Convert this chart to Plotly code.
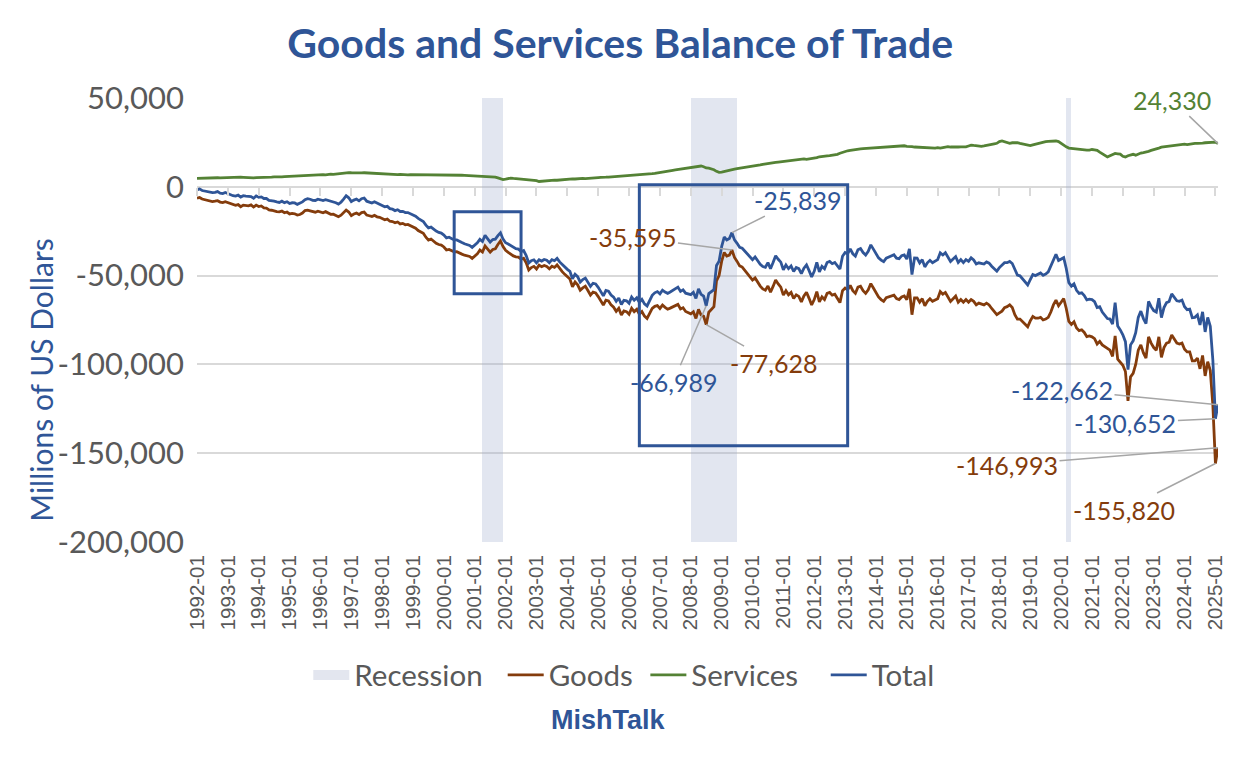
import plotly.graph_objects as go

# ---------------- data (millions of US dollars, monthly 1992-01 .. 2025-02) ----------------
months = [f"{y}-{m:02d}" for y in range(1992, 2026) for m in range(1, 13)][:398]
tick_labels = [f"{y}-01" for y in range(1992, 2026)]
y_ticks = [-200000, -150000, -100000, -50000, 0, 50000]

goods = [
    -6400, -6000, -6900, -7300, -7800, -7900, -8300, -8100, -7800, -8600, -8900, -8400,          # 1992
    -8900, -9600, -10100, -10400, -10000, -11200, -10300, -10500, -10700, -10200, -11400, -10300, # 1993
    -11100, -10800, -11900, -12000, -13000, -13200, -13700, -14000, -14100, -13700, -14600, -14200,  # 1994
    -15300, -15000, -15200, -15900, -15600, -14800, -13400, -13100, -13500, -14000, -14300, -13700,  # 1995
    -14100, -14600, -14000, -14700, -15500, -15400, -16200, -16800, -16000, -14500, -13100, -14200,  # 1996
    -16200, -15300, -14800, -15600, -14500, -14200, -15900, -16300, -16700, -16100, -16900, -17200,  # 1997
    -17800, -18600, -18200, -19400, -19600, -20300, -19800, -20900, -20600, -21400, -21200, -22000,  # 1998
    -22500, -23300, -24600, -25300, -26200, -28400, -30000, -29400, -30700, -31800, -32500, -32800,  # 1999
    -33900, -35600, -35300, -36100, -36600, -36500, -37400, -37900, -38500, -38900, -39200, -40300,  # 2000
    -38800, -37800, -35600, -36700, -33300, -34800, -36800, -35300, -34900, -32500, -30500, -33600,  # 2001
    -35800, -36900, -38000, -38900, -39400, -39600, -40800, -40200, -42800, -46900, -45500, -44800,  # 2002
    -46300, -44100, -45000, -44300, -44900, -46200, -44700, -45400, -44000, -46200, -47800, -49300,  # 2003
    -50700, -51900, -56300, -53600, -55200, -58200, -56900, -56000, -58400, -61000, -59300, -59800,  # 2004
    -61800, -64500, -66600, -63800, -64300, -66500, -67800, -70100, -68400, -72200, -69900, -70300,  # 2005
    -71800, -68400, -70300, -69000, -71700, -70200, -72800, -74100, -71000, -68500, -67300, -66900,  # 2006
    -68500, -66600, -67900, -68900, -68300, -67500, -66900, -66200, -68800, -68100, -70200, -71000,  # 2007
    -71500, -70400, -74100, -69000, -72200, -72900, -77628, -70600, -69000, -67500, -53000, -50000,  # 2008
    -42000, -37000, -39000, -38500, -35595, -39800, -42000, -44500, -45200, -47000, -48800, -50500,  # 2009
    -52500, -51300, -53800, -55900, -57500, -58200, -55800, -59400, -56100, -52500, -54700, -56500,  # 2010
    -61000, -58500, -60800, -59500, -62900, -60800, -61700, -64800, -61500, -59400, -62800, -66500,  # 2011
    -63500, -59000, -64800, -62000, -63500, -60000, -59500, -61000, -60500, -63000, -65200, -58500,  # 2012
    -57000, -58000, -55500, -58500, -60000, -56500, -56000, -58500, -60000, -58000, -54500, -57000,  # 2013
    -59500, -62000, -63500, -64500, -62500, -62000, -61500, -61000, -63000, -63500, -62000, -61500,  # 2014
    -63500, -57500, -72000, -62500, -62500, -65000, -63000, -67000, -64500, -63000, -64500, -63500,  # 2015
    -63000, -59000, -60500, -59500, -62000, -64500, -63000, -61500, -65000, -63500, -65000, -63500,  # 2016
    -65000, -63500, -64500, -66500, -65500, -66000, -66500, -65500, -66500, -68500, -70500, -72000,  # 2017
    -71000, -70000, -68000, -67500, -66500, -68000, -72000, -74500, -74500, -76000, -77000, -78800,  # 2018
    -75500, -73000, -74000, -74000, -73500, -75000, -74500, -73500, -70500, -66500, -63800, -67000,  # 2019
    -65000, -62900, -68500, -75800, -77500, -76000, -79500, -81000, -80500, -82000, -84400, -84000,  # 2020
    -84500, -85500, -88500, -87000, -89000, -90000, -91000, -92000, -95500, -84000, -97000, -99000,  # 2021
    -100500, -104000, -120500, -107000, -105000, -100000, -92000, -89000, -93500, -96500, -84500, -88000,  # 2022
    -90500, -92000, -84500, -96000, -90500, -88000, -87500, -83500, -85500, -88000, -88500, -88000,  # 2023
    -91500, -93000, -93000, -98000, -98000, -96500, -102500, -95000, -106500, -98500, -103500, -122900,  # 2024
    -155820, -146993,                                                                               # 2025
]

services = [
    4700, 4800, 4800, 4900, 4800, 4900, 5000, 5000, 5100, 5000, 5100, 5200,          # 1992
    5100, 5000, 5100, 5200, 5300, 5400, 5300, 5200, 5100, 4700, 5000, 5200,          # 1993
    5200, 5100, 5300, 5400, 5400, 5500, 5600, 5500, 5300, 5600, 5700, 5800,          # 1994
    5900, 6000, 6100, 6000, 6200, 6300, 6100, 6400, 6500, 6400, 6600, 6700,          # 1995
    6800, 6900, 6700, 7000, 7100, 7000, 7200, 7100, 7300, 7600, 8100, 8000,          # 1996
    7900, 7800, 7900, 7700, 7800, 7900, 7800, 7700, 7600, 7700, 7800, 7600,          # 1997
    7400, 7300, 7200, 7100, 7000, 6900, 6900, 7000, 6800, 6900, 6700, 6800,          # 1998
    6800, 6700, 6800, 6600, 6700, 6800, 6900, 6700, 6800, 6900, 6800, 6700,          # 1999
    6700, 6800, 6900, 6800, 6700, 6600, 6500, 6500, 6400, 6300, 6200, 6200,          # 2000
    6100, 6200, 6000, 5900, 6000, 5800, 5700, 5600, 5400, 5000, 4600, 4100,          # 2001
    4300, 4700, 4900, 4700, 4600, 4500, 4400, 4300, 4100, 4000, 3900, 3700,          # 2002
    3500, 3000, 3200, 3400, 3600, 3500, 3700, 3800, 3700, 3900, 4000, 4100,          # 2003
    4200, 4300, 4500, 4400, 4600, 4500, 4700, 4600, 4800, 4900, 5000, 5100,          # 2004
    5200, 5300, 5200, 5400, 5500, 5600, 5700, 5600, 5800, 5900, 6000, 6100,          # 2005
    6200, 6300, 6400, 6500, 6600, 6800, 6900, 7000, 7200, 7400, 7600, 7900,          # 2006
    8200, 8400, 8600, 8900, 9100, 9300, 9500, 9700, 9900, 10100, 10300, 10500,       # 2007
    10800, 11000, 11200, 11500, 11700, 11300, 10639, 10500, 10200, 9600, 8700, 8100, # 2008
    8300, 8700, 9100, 9400, 9756, 9900, 10200, 10400, 10600, 10900, 11100, 11300,    # 2009
    11500, 11800, 12100, 12300, 12600, 12900, 13100, 13300, 13500, 13700, 13900, 14100,  # 2010
    14300, 14500, 14700, 14900, 15200, 15400, 15600, 15900, 15700, 15400, 15600, 15800,  # 2011
    15900, 16400, 16900, 17200, 17300, 17400, 17500, 17700, 17900, 18300, 18900, 19400,  # 2012
    20000, 20300, 20500, 20800, 21000, 21100, 21300, 21500, 21600, 21700, 21800, 21900,  # 2013
    22100, 22000, 22200, 22400, 22300, 22500, 22600, 22700, 22800, 23000, 23200, 23100,  # 2014
    22800, 22500, 22600, 22400, 22300, 22100, 22000, 21900, 21700, 21600, 21700, 21800,  # 2015
    22000, 21800, 22100, 22400, 22600, 22400, 22300, 22200, 22400, 22500, 22300, 22500,  # 2016
    23000, 23500, 23300, 23000, 22700, 22800, 23000, 23200, 23500, 23800, 24200, 24500,  # 2017
    25500, 25800, 25300, 24800, 24500, 24800, 25000, 24800, 24400, 24200, 23800, 23500,  # 2018
    23200, 23600, 24000, 24600, 25000, 25200, 25400, 25600, 25800, 25900, 25800, 25500,  # 2019
    24500, 23000, 22500, 21800, 21600, 21400, 21200, 21000, 20800, 20800, 20700, 20700,  # 2020
    21000, 20800, 20500, 19500, 18500, 17500, 16800, 17500, 18200, 18800, 18600, 18400,  # 2021
    17200, 16800, 17500, 18000, 18300, 17800, 18500, 19000, 19300, 19500, 20000, 20500,  # 2022
    20800, 21500, 21800, 22300, 22500, 22800, 22900, 23200, 23500, 23800, 24000, 24200,  # 2023
    24000, 23800, 24100, 24300, 24500, 24400, 24700, 24600, 24800, 24900, 25000, 25300,  # 2024
    25168, 24330,                                                                     # 2025
]

total = [
    -1700, -1200, -2100, -2400, -3000, -3000, -3300, -3100, -2700, -3600, -3800, -3200,          # 1992
    -3800, -4600, -5000, -5200, -4700, -5800, -5000, -5300, -5600, -5500, -6400, -5100,          # 1993
    -5900, -5700, -6600, -6600, -7600, -7700, -8100, -8500, -8800, -8100, -8900, -8400,          # 1994
    -9400, -9000, -9100, -9900, -9400, -8500, -7300, -6700, -7000, -7600, -7700, -7000,          # 1995
    -7300, -7700, -7300, -7700, -8400, -8400, -9000, -9700, -8700, -6900, -5000, -6200,          # 1996
    -8300, -7500, -6900, -7900, -6700, -6300, -8100, -8600, -9100, -8400, -9100, -9600,          # 1997
    -10400, -11300, -11000, -12300, -12600, -13400, -12900, -13900, -13800, -14500, -14500, -15200,  # 1998
    -15700, -16600, -17800, -18700, -19500, -21600, -23100, -22700, -23900, -24900, -25700, -26100,  # 1999
    -27200, -28800, -28400, -29300, -29900, -29900, -30900, -31400, -32100, -32600, -33000, -34100,  # 2000
    -32700, -31600, -29600, -30800, -27300, -29000, -31100, -29700, -29500, -27500, -25900, -29500,  # 2001
    -31500, -32200, -33100, -34200, -34800, -35100, -36400, -35900, -38700, -42900, -41600, -41100,  # 2002
    -42800, -41100, -41800, -40900, -41300, -42700, -41000, -41600, -40300, -42300, -43800, -45200,  # 2003
    -46500, -47600, -51800, -49200, -50600, -53700, -52200, -51400, -53600, -56100, -54300, -54700,  # 2004
    -56600, -59200, -61400, -58400, -58800, -60900, -62100, -64500, -62600, -66300, -63900, -64200,  # 2005
    -65600, -62100, -63900, -62500, -65100, -63400, -65900, -67100, -63800, -61100, -59700, -59000,  # 2006
    -60300, -58200, -59300, -60000, -59200, -58200, -57400, -56500, -58900, -58000, -59900, -60500,  # 2007
    -60700, -59400, -62900, -57500, -60500, -61600, -66989, -60100, -58800, -57900, -44300, -41900,  # 2008
    -33700, -28300, -29900, -29100, -25839, -29900, -31800, -34100, -34600, -36100, -37700, -39200,  # 2009
    -41000, -39500, -41700, -43600, -44900, -45300, -42700, -46100, -42600, -38800, -40800, -42400,  # 2010
    -46700, -44000, -46100, -44600, -47700, -45400, -46100, -48900, -45800, -44000, -47200, -50700,  # 2011
    -47600, -42600, -47900, -44800, -46200, -42600, -42000, -43300, -42600, -44700, -46300, -39100,  # 2012
    -37000, -37700, -35000, -37700, -39000, -35400, -34700, -37000, -38400, -36300, -32700, -35100,  # 2013
    -37400, -40000, -41300, -42100, -40200, -39500, -38900, -38300, -40200, -40500, -38800, -38400,  # 2014
    -40700, -35000, -49400, -40100, -40200, -42900, -41000, -45100, -42800, -41400, -42800, -41700,  # 2015
    -41000, -37200, -38400, -37100, -39400, -42100, -40700, -39300, -42600, -41000, -42700, -41000,  # 2016
    -42000, -40000, -41200, -43500, -42800, -43200, -43500, -42300, -43000, -44700, -46300, -47500,  # 2017
    -45500, -44200, -42700, -42700, -42000, -43200, -47000, -49700, -50100, -51800, -53200, -55300,  # 2018
    -52300, -49400, -50000, -49400, -48500, -49800, -49100, -47900, -44700, -40600, -38000, -41500,  # 2019
    -40500, -39900, -46000, -54000, -55900, -54600, -58300, -60000, -59700, -61200, -63700, -63300,  # 2020
    -63500, -64700, -68000, -67500, -70500, -72500, -74200, -74500, -77300, -65200, -78400, -80600,  # 2021
    -83300, -87200, -103000, -89000, -86700, -82200, -73500, -70000, -74200, -77000, -64500, -67500,  # 2022
    -69700, -70500, -62700, -73700, -68000, -65200, -64600, -60300, -62000, -64200, -64500, -63800,  # 2023
    -67500, -69200, -68900, -73700, -73500, -72100, -77800, -70400, -81700, -73600, -78500, -97600,  # 2024
    -130652, -122662,                                                                                # 2025
]

recession_periods = [("2001-04", "2001-11"), ("2008-01", "2009-06"), ("2020-03", "2020-04")]
highlight_boxes = [("2000-05", "2002-07", -14000, -60200), ("2006-05", "2013-02", 1100, -145800)]

y_min, y_max = -200000, 50000

# ---------------- styling ----------------
C_GOODS = "#843C0C"
C_SERV = "#548235"
C_TOTAL = "#2F5597"
C_REC = "rgba(160,172,204,0.30)"
C_REC_SOLID = "#E3E6EF"
GRID = "#D9D9D9"
TXT = "#595959"
FONT = "Lato"
NB = "\u00a0"

rec_x = []
for a, b in recession_periods:
    i0, i1 = months.index(a), months.index(b)
    rec_x += months[i0:i1 + 1]

fig = go.Figure()
fig.add_trace(go.Bar(x=rec_x, y=[y_max - y_min] * len(rec_x), base=y_min, name="Recession",
                     marker=dict(color=C_REC, line=dict(width=0)), width=1, offset=0,
                     hoverinfo="skip", showlegend=False, legendgroup="rec"))
# legend swatch for the recession band (wide rectangle like the original); lives on the
# overlay axis that carries the tick marks on the zero line
fig.add_trace(go.Scatter(x=[None], y=[None], mode="lines", name="Recession" + NB * 2,
                         line=dict(color=C_REC_SOLID, width=17), legendgroup="rec",
                         xaxis="x2", yaxis="y"))
fig.add_trace(go.Scatter(x=months, y=goods, mode="lines", name="Goods" + NB,
                         line=dict(color=C_GOODS, width=2.8)))
fig.add_trace(go.Scatter(x=months, y=services, mode="lines", name="Services" + NB * 3,
                         line=dict(color=C_SERV, width=2.8)))
fig.add_trace(go.Scatter(x=months, y=total, mode="lines", name="Total",
                         line=dict(color=C_TOTAL, width=2.8)))

for x0, x1, y0, y1 in highlight_boxes:
    fig.add_shape(type="rect", xref="x", yref="y", x0=months.index(x0), x1=months.index(x1),
                  y0=y0, y1=y1, line=dict(color=C_TOTAL, width=3), fillcolor="rgba(0,0,0,0)")

# data labels (month, value, colour, pixel offsets of the label)
labels = [
    ("2025-02", services[-1], C_SERV, -46, -44),
    ("2009-05", total[months.index("2009-05")], C_TOTAL, 66, -33),
    ("2009-05", goods[months.index("2009-05")], C_GOODS, -99, -13),
    ("2008-07", total[months.index("2008-07")], C_TOTAL, -33, 76),
    ("2008-07", goods[months.index("2008-07")], C_GOODS, 67, 38),
    ("2025-02", total[-1], C_TOTAL, -156, -15),
    ("2025-01", total[-2], C_TOTAL, -90, 4),
    ("2025-02", goods[-1], C_GOODS, -211, 17),
    ("2025-01", goods[-2], C_GOODS, -91, 46),
]
for xm, v, col, ax, ay in labels:
    fig.add_annotation(x=xm, y=v, xref="x", yref="y", text=f"{v:,}", showarrow=True,
                       arrowhead=0, arrowwidth=1.5, arrowcolor="#A6A6A6", ax=ax, ay=ay,
                       font=dict(family=FONT, size=25, color=col))

fig.add_annotation(x=-0.153, y=0.365, xref="paper", yref="paper", text="Millions of US Dollars",
                   xanchor="center", yanchor="middle",
                   textangle=-90, showarrow=False, font=dict(family=FONT, size=30, color=C_TOTAL))
fig.add_annotation(x=0.4035, y=-0.40, xref="paper", yref="paper", text="<b>MishTalk</b>",
                   xanchor="center", yanchor="middle",
                   showarrow=False, font=dict(family="Liberation Sans, Arial", size=27, color=C_TOTAL))

fig.update_layout(
    width=1238, height=763,
    margin=dict(l=197, r=15, t=98, b=221),
    paper_bgcolor="white", plot_bgcolor="white",
    title=dict(text="<b>Goods and Services Balance of Trade</b>", x=0.501, xref="container",
               y=1 - 44 / 763, yanchor="middle", xanchor="center",
               font=dict(family=FONT, size=41, color=C_TOTAL)),
    bargap=0,
    showlegend=True,
    legend=dict(orientation="h", x=0.418, xanchor="center", y=-0.30, yanchor="middle",
                font=dict(family=FONT, size=29.5, color=TXT), traceorder="normal",
                itemwidth=36),
    xaxis=dict(type="category", categoryorder="array", categoryarray=months,
               range=[0, len(months) - 1], tickmode="array",
               tickvals=tick_labels, ticktext=tick_labels, tickangle=-90,
               tickfont=dict(family="Liberation Sans, Arial", size=20.5, color=TXT),
               showgrid=False, zeroline=False, showline=False, ticks="", ticklabelstandoff=8),
    xaxis2=dict(overlaying="x", anchor="free", position=(0 - y_min) / (y_max - y_min),
                type="linear", range=[0, len(months) - 1],
                tickmode="array", tickvals=list(range(0, len(months), 12)),
                ticks="outside", ticklen=8, tickwidth=2, tickcolor=GRID,
                showticklabels=False, showgrid=False, zeroline=False, showline=False),
    yaxis=dict(range=[y_min, y_max], tickmode="array",
               tickvals=y_ticks, ticktext=[f"{v:,}" for v in y_ticks],
               gridcolor=GRID, gridwidth=2, zeroline=False, showline=False,
               tickfont=dict(family=FONT, size=31, color=TXT), ticklabelstandoff=12),
)

fig.write_html("out.html")
